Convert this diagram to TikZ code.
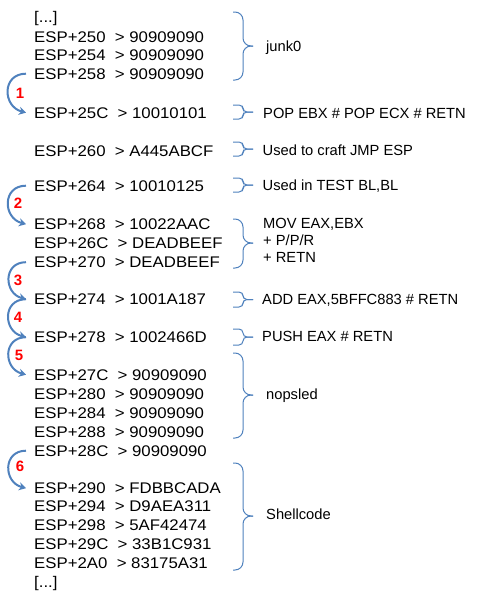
\documentclass[tikz,border=0pt]{standalone}
\usepackage{fontspec}
\usetikzlibrary{arrows.meta}
\newfontfamily\stackfam{Liberation Sans}[FakeStretch=1.09]
\newfontfamily\notefam{Liberation Sans}
\newcommand{\stackfont}{\stackfam\fontsize{15.4pt}{18pt}\selectfont}
\newcommand{\notefont}{\notefam\fontsize{14.7pt}{17pt}\selectfont}
\definecolor{gadgetblue}{RGB}{79,129,189}
\newcommand{\jmp}{-{Stealth[length=7pt,width=8pt]}}
\newcommand{\curly}[5][7]{%
\draw[brace,rounded corners=#1pt] (#2,#3) -- (#2+10,#3) -- (#2+10,#4) -- (#2+20,#4);
\draw[brace,rounded corners=#1pt] (#2+20,#4) -- (#2+10,#4) -- (#2+10,#5) -- (#2,#5);}

\begin{document}
\begin{tikzpicture}[x=1pt,y=-1pt,
  slot/.style={anchor=base west,inner sep=0pt,font=\stackfont},
  note/.style={anchor=base west,inner sep=0pt,font=\notefont},
  hop/.style={inner sep=0pt,text=red,font=\notefam\bfseries\fontsize{15pt}{18pt}\selectfont},
  brace/.style={draw=gadgetblue,line width=1pt},
  jump/.style={draw=gadgetblue,line width=2pt,\jmp}]
\useasboundingbox (0,0) rectangle (477,597);
%stack slots
\node[slot] (dtop) at (34,23) {[...]};
\node[slot] (r250) at (34,42) {ESP+250\ \ > 90909090};
\node[slot] (r254) at (34,60.5) {ESP+254\ \ > 90909090};
\node[slot] (r258) at (34,79) {ESP+258\ \ > 90909090};
\node[slot] (r25C) at (34,118) {ESP+25C\ \ > 10010101};
\node[slot] (r260) at (34,156) {ESP+260\ \ > A445ABCF};
\node[slot] (r264) at (34,191) {ESP+264\ \ > 10010125};
\node[slot] (r268) at (34,229.5) {ESP+268\ \ > 10022AAC};
\node[slot] (r26C) at (34,248.5) {ESP+26C\ \ > DEADBEEF};
\node[slot] (r270) at (34,267.5) {ESP+270\ \ > DEADBEEF};
\node[slot] (r274) at (34,304.5) {ESP+274\ \ > 1001A187};
\node[slot] (r278) at (34,342.5) {ESP+278\ \ > 1002466D};
\node[slot] (r27C) at (34,380) {ESP+27C\ \ > 90909090};
\node[slot] (r280) at (34,399) {ESP+280\ \ > 90909090};
\node[slot] (r284) at (34,418) {ESP+284\ \ > 90909090};
\node[slot] (r288) at (34,437) {ESP+288\ \ > 90909090};
\node[slot] (r28C) at (34,456) {ESP+28C\ \ > 90909090};
\node[slot] (r290) at (34,493.5) {ESP+290\ \ > FDBBCADA};
\node[slot] (r294) at (34,511.5) {ESP+294\ \ > D9AEA311};
\node[slot] (r298) at (34,530.5) {ESP+298\ \ > 5AF42474};
\node[slot] (r29C) at (34,549.5) {ESP+29C\ \ > 33B1C931};
\node[slot] (r2A0) at (34,568.5) {ESP+2A0\ \ > 83175A31};
\node[slot] (dbot) at (34,587) {[...]};
%braces and notes
\curly[8]{233}{12}{46}{80}
\curly[4]{233}{105}{112}{119}
\curly[4]{233}{142}{149}{156}
\curly[4]{233}{178}{185}{192}
\curly[8]{233}{219}{243}{268}
\curly[4]{233}{292}{299.5}{307}
\curly[4]{233}{329}{337}{345}
\curly[8]{233}{353}{395}{438}
\curly[8]{233}{463}{516}{570}
\node[note] (junk) at (266,51.5) {junk0};
\node[note] (popret) at (263,118) {POP EBX \# POP ECX \# RETN};
\node[note] (craft) at (262.5,155) {Used to craft JMP ESP};
\node[note] (test) at (262.5,190) {Used in TEST BL,BL};
\node[note] (mov) at (263,228.3) {MOV EAX,EBX};
\node[note] (ppr) at (263,245.7) {+ P/P/R};
\node[note] (retn) at (263,262) {+ RETN};
\node[note] (addeax) at (262,304.5) {ADD EAX,5BFFC883 \# RETN};
\node[note] (pusheax) at (262,341.5) {PUSH EAX \# RETN};
\node[note] (nops) at (266,399) {nopsled};
\node[note] (shell) at (266,519.5) {Shellcode};
%jumps
\draw[jump] ([xshift=-8pt]r258.west) to[out=180,in=165,looseness=1.6] ([xshift=-8pt]r25C.west);
\draw[jump] ([xshift=-8pt]r264.west) to[out=180,in=165,looseness=1.6] ([xshift=-8pt]r268.west);
\draw[jump] ([xshift=-8pt]r270.west) to[out=180,in=165,looseness=1.6] ([xshift=-8pt]r274.west);
\draw[jump] ([xshift=-8pt]r274.west) to[out=180,in=165,looseness=1.6] ([xshift=-8pt]r278.west);
\draw[jump] ([xshift=-8pt]r278.west) to[out=180,in=165,looseness=1.6] ([xshift=-8pt]r27C.west);
\draw[jump] ([xshift=-8pt]r28C.west) to[out=180,in=165,looseness=1.6] ([xshift=-8pt]r290.west);
\node[hop] (h1) at (20,93) {1};
\node[hop] (h2) at (18,203) {2};
\node[hop] (h3) at (18,280) {3};
\node[hop] (h4) at (18,317) {4};
\node[hop] (h5) at (19,355) {5};
\node[hop] (h6) at (20,466.5) {6};
\end{tikzpicture}
\end{document}
